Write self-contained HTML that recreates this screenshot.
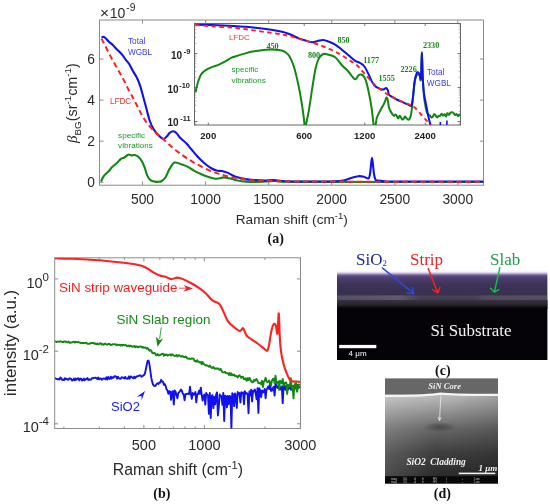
<!DOCTYPE html><html><head><meta charset="utf-8"><title>Figure</title><style>html,body{margin:0;padding:0;background:#fff;}svg{display:block;}text{font-family:'Liberation Sans', Arial, sans-serif;}.sf{font-family:'Liberation Serif', 'Times New Roman', serif;}</style></head><body><svg width="550" height="504" viewBox="0 0 550 504"><defs><clipPath id="ca"><rect x="100" y="20" width="383.5" height="165"/></clipPath><clipPath id="ci"><rect x="194.5" y="23.5" width="266" height="101.5"/></clipPath><clipPath id="cb"><rect x="54.7" y="257.8" width="245.8" height="170.7"/></clipPath><linearGradient id="pband" gradientUnits="userSpaceOnUse" x1="0" y1="270" x2="0" y2="309"><stop offset="0" stop-color="#ffffff"/><stop offset="0.04" stop-color="#f6f2fa"/><stop offset="0.08" stop-color="#cfc4e2"/><stop offset="0.13" stop-color="#6e5e96"/><stop offset="0.18" stop-color="#524274"/><stop offset="0.26" stop-color="#483a68"/><stop offset="0.38" stop-color="#3e3358"/><stop offset="0.55" stop-color="#3a3150"/><stop offset="0.64" stop-color="#3a324c"/><stop offset="0.67" stop-color="#40384e"/><stop offset="0.76" stop-color="#3a3446"/><stop offset="0.82" stop-color="#312c38"/><stop offset="0.9" stop-color="#27222c"/><stop offset="0.95" stop-color="#100c14"/><stop offset="1" stop-color="#050307"/></linearGradient><linearGradient id="pstripe" x1="0" y1="0" x2="1" y2="0"><stop offset="0" stop-color="#8a8294" stop-opacity="0.32"/><stop offset="0.3" stop-color="#8a8294" stop-opacity="0.45"/><stop offset="0.4" stop-color="#8a8294" stop-opacity="0.1"/><stop offset="0.65" stop-color="#8a8294" stop-opacity="0.12"/><stop offset="0.72" stop-color="#8a8294" stop-opacity="0.28"/><stop offset="1" stop-color="#8a8294" stop-opacity="0.3"/></linearGradient><linearGradient id="semv" gradientUnits="userSpaceOnUse" x1="0" y1="397" x2="0" y2="477"><stop offset="0" stop-color="#b8b8b8"/><stop offset="0.15" stop-color="#999"/><stop offset="0.4" stop-color="#666"/><stop offset="0.7" stop-color="#3e3e3e"/><stop offset="1" stop-color="#2a2a2a"/></linearGradient><linearGradient id="semh" x1="0" y1="0" x2="1" y2="0"><stop offset="0" stop-color="#fff" stop-opacity="0.16"/><stop offset="0.45" stop-color="#fff" stop-opacity="0"/><stop offset="0.55" stop-color="#000" stop-opacity="0"/><stop offset="1" stop-color="#000" stop-opacity="0.14"/></linearGradient><radialGradient id="blob"><stop offset="0" stop-color="#2a2a2a" stop-opacity="0.55"/><stop offset="1" stop-color="#2a2a2a" stop-opacity="0"/></radialGradient></defs><rect x="99.5" y="20" width="384" height="165.2" fill="none" stroke="#8c8c8c" stroke-width="1"/><line x1="142.5" y1="185" x2="142.5" y2="181.5" stroke="#8c8c8c" stroke-width="1"/><line x1="142.5" y1="20" x2="142.5" y2="23.5" stroke="#8c8c8c" stroke-width="1"/><text x="142.5" y="204" font-size="13.8" fill="#2a2a2a" text-anchor="middle">500</text><line x1="205.6" y1="185" x2="205.6" y2="181.5" stroke="#8c8c8c" stroke-width="1"/><line x1="205.6" y1="20" x2="205.6" y2="23.5" stroke="#8c8c8c" stroke-width="1"/><text x="205.6" y="204" font-size="13.8" fill="#2a2a2a" text-anchor="middle">1000</text><line x1="268.7" y1="185" x2="268.7" y2="181.5" stroke="#8c8c8c" stroke-width="1"/><line x1="268.7" y1="20" x2="268.7" y2="23.5" stroke="#8c8c8c" stroke-width="1"/><text x="268.7" y="204" font-size="13.8" fill="#2a2a2a" text-anchor="middle">1500</text><line x1="331.7" y1="185" x2="331.7" y2="181.5" stroke="#8c8c8c" stroke-width="1"/><line x1="331.7" y1="20" x2="331.7" y2="23.5" stroke="#8c8c8c" stroke-width="1"/><text x="331.7" y="204" font-size="13.8" fill="#2a2a2a" text-anchor="middle">2000</text><line x1="394.8" y1="185" x2="394.8" y2="181.5" stroke="#8c8c8c" stroke-width="1"/><line x1="394.8" y1="20" x2="394.8" y2="23.5" stroke="#8c8c8c" stroke-width="1"/><text x="394.8" y="204" font-size="13.8" fill="#2a2a2a" text-anchor="middle">2500</text><line x1="457.8" y1="185" x2="457.8" y2="181.5" stroke="#8c8c8c" stroke-width="1"/><line x1="457.8" y1="20" x2="457.8" y2="23.5" stroke="#8c8c8c" stroke-width="1"/><text x="457.8" y="204" font-size="13.8" fill="#2a2a2a" text-anchor="middle">3000</text><line x1="100" y1="182.3" x2="103.5" y2="182.3" stroke="#8c8c8c" stroke-width="1"/><line x1="483.5" y1="182.3" x2="480" y2="182.3" stroke="#8c8c8c" stroke-width="1"/><text x="95" y="187.3" font-size="13.8" fill="#2a2a2a" text-anchor="end">0</text><line x1="100" y1="141.2" x2="103.5" y2="141.2" stroke="#8c8c8c" stroke-width="1"/><line x1="483.5" y1="141.2" x2="480" y2="141.2" stroke="#8c8c8c" stroke-width="1"/><text x="95" y="146.2" font-size="13.8" fill="#2a2a2a" text-anchor="end">2</text><line x1="100" y1="100.1" x2="103.5" y2="100.1" stroke="#8c8c8c" stroke-width="1"/><line x1="483.5" y1="100.1" x2="480" y2="100.1" stroke="#8c8c8c" stroke-width="1"/><text x="95" y="105.1" font-size="13.8" fill="#2a2a2a" text-anchor="end">4</text><line x1="100" y1="59.0" x2="103.5" y2="59.0" stroke="#8c8c8c" stroke-width="1"/><line x1="483.5" y1="59.0" x2="480" y2="59.0" stroke="#8c8c8c" stroke-width="1"/><text x="95" y="64.0" font-size="13.8" fill="#2a2a2a" text-anchor="end">6</text><text x="100.1" y="17.6" font-size="14" fill="#2a2a2a"><tspan font-size="15.5">×</tspan><tspan dx="0.6">10</tspan><tspan font-size="10.3" dy="-6.4" dx="1">-9</tspan></text><text x="235.8" y="224.3" font-size="13.6" fill="#2a2a2a">Raman shift (cm<tspan font-size="9.5" dy="-5.5">-1</tspan><tspan dy="5.5">)</tspan></text><text class="sf" x="267.6" y="243" font-size="14" font-weight="bold" fill="#111">(a)</text><g transform="translate(77,142.9) rotate(-90)"><text x="0" y="0" font-size="14.3" fill="#2a2a2a"><tspan font-style="italic" font-family="Liberation Serif, serif" font-size="15">β</tspan><tspan font-size="9.8" dy="4">BG</tspan><tspan dy="-4">(sr</tspan><tspan font-size="9.8" dy="-6">-1</tspan><tspan dy="6">cm</tspan><tspan font-size="9.8" dy="-6">-1</tspan><tspan dy="6">)</tspan></text></g><g clip-path="url(#ca)" fill="none" stroke-linejoin="round"><path d="M101.00,181.50 C101.43,180.63 102.72,177.63 103.60,176.30 C104.48,174.97 105.38,174.43 106.30,173.50 C107.22,172.57 108.17,171.75 109.10,170.70 C110.03,169.65 110.73,168.36 111.90,167.20 C113.07,166.04 114.60,165.13 116.10,163.75 C117.60,162.37 119.52,159.94 120.90,158.90 C122.28,157.86 123.12,158.22 124.40,157.50 C125.68,156.78 127.45,154.95 128.60,154.60 C129.75,154.25 130.27,155.33 131.30,155.40 C132.33,155.47 133.63,154.77 134.80,155.00 C135.97,155.23 137.14,155.80 138.30,156.80 C139.46,157.80 140.72,159.27 141.75,161.00 C142.78,162.73 143.57,164.77 144.50,167.20 C145.43,169.63 146.25,173.40 147.30,175.60 C148.35,177.80 149.53,179.40 150.80,180.40 C152.07,181.40 153.70,181.37 154.90,181.60 C156.10,181.83 156.87,181.90 158.00,181.80 C159.13,181.70 160.42,181.80 161.70,181.00 C162.98,180.20 164.37,179.07 165.70,177.00 C167.03,174.93 168.22,171.00 169.70,168.60 C171.18,166.20 172.62,163.30 174.60,162.60 C176.58,161.90 179.45,163.73 181.60,164.40 C183.75,165.07 185.52,165.60 187.50,166.60 C189.48,167.60 191.18,169.12 193.50,170.40 C195.82,171.68 199.10,173.27 201.40,174.30 C203.70,175.33 204.80,175.85 207.30,176.60 C209.80,177.35 213.68,178.67 216.40,178.80 C219.12,178.93 221.48,177.50 223.60,177.40 C225.72,177.30 226.97,177.73 229.10,178.20 C231.23,178.67 233.67,179.63 236.40,180.20 C239.13,180.77 240.97,181.33 245.50,181.60 C250.03,181.87 258.77,181.90 263.60,181.80 C268.43,181.70 271.47,181.03 274.50,181.00 C277.53,180.97 277.55,181.45 281.80,181.60 C286.05,181.75 266.38,181.83 300.00,181.90 C333.62,181.97 452.92,181.98 483.50,182.00" stroke="#118811" stroke-width="2.1"/><path d="M101.50,37.60 C101.85,37.45 102.87,36.55 103.60,36.70 C104.33,36.85 104.98,37.63 105.90,38.50 C106.82,39.37 107.90,40.77 109.10,41.90 C110.30,43.03 111.78,44.02 113.10,45.30 C114.42,46.58 115.55,48.12 117.00,49.60 C118.45,51.08 120.33,52.50 121.80,54.20 C123.27,55.90 124.60,58.20 125.80,59.80 C127.00,61.40 127.82,61.93 129.00,63.80 C130.18,65.67 131.58,68.67 132.90,71.00 C134.22,73.33 135.70,75.37 136.90,77.80 C138.10,80.23 139.05,82.45 140.10,85.60 C141.15,88.75 142.15,92.87 143.20,96.70 C144.25,100.53 145.30,104.55 146.40,108.60 C147.50,112.65 148.57,117.52 149.80,121.00 C151.03,124.48 152.30,127.07 153.80,129.50 C155.30,131.93 157.22,134.02 158.80,135.60 C160.38,137.18 161.98,138.83 163.30,139.00 C164.62,139.17 165.63,137.62 166.70,136.60 C167.77,135.58 168.60,133.78 169.70,132.90 C170.80,132.02 172.15,131.23 173.30,131.30 C174.45,131.37 175.38,132.15 176.60,133.30 C177.82,134.45 178.95,136.48 180.60,138.20 C182.25,139.92 184.68,141.72 186.50,143.60 C188.32,145.48 189.67,147.35 191.50,149.50 C193.33,151.65 195.75,154.58 197.50,156.50 C199.25,158.42 200.58,159.67 202.00,161.00 C203.42,162.33 204.52,163.33 206.00,164.50 C207.48,165.67 209.17,166.98 210.90,168.00 C212.63,169.02 214.58,170.10 216.40,170.60 C218.22,171.10 219.98,170.67 221.80,171.00 C223.62,171.33 225.48,171.85 227.30,172.60 C229.12,173.35 230.88,174.67 232.70,175.50 C234.52,176.33 236.07,177.00 238.20,177.60 C240.33,178.20 242.78,178.70 245.50,179.10 C248.22,179.50 251.48,179.77 254.50,180.00 C257.52,180.23 260.57,180.48 263.60,180.50 C266.63,180.52 270.30,180.08 272.70,180.10 C275.10,180.12 275.95,180.42 278.00,180.60 C280.05,180.78 281.33,181.05 285.00,181.20 C288.67,181.35 292.50,181.45 300.00,181.50 C307.50,181.55 323.18,181.60 330.00,181.50 C336.82,181.40 338.17,181.20 340.90,180.90 C343.63,180.60 344.58,180.23 346.40,179.70 C348.22,179.17 349.80,178.28 351.80,177.70 C353.80,177.12 356.40,176.37 358.40,176.20 C360.40,176.03 362.15,176.32 363.80,176.70 C365.45,177.08 367.27,178.95 368.30,178.50 C369.33,178.05 369.52,176.58 370.00,174.00 C370.48,171.42 370.87,165.67 371.20,163.00 C371.53,160.33 371.73,158.00 372.00,158.00 C372.27,158.00 372.47,160.33 372.80,163.00 C373.13,165.67 373.53,171.18 374.00,174.00 C374.47,176.82 374.93,178.82 375.60,179.90 C376.27,180.98 376.52,180.28 378.00,180.50 C379.48,180.72 382.50,181.03 384.50,181.20 C386.50,181.37 373.50,181.45 390.00,181.50 C406.50,181.55 467.92,181.50 483.50,181.50" stroke="#1010f0" stroke-width="2.1"/><path d="M101.50,38.60 C102.10,39.77 103.57,42.60 105.10,45.60 C106.63,48.60 108.72,52.87 110.70,56.60 C112.68,60.33 114.88,64.20 117.00,68.00 C119.12,71.80 121.40,75.63 123.40,79.40 C125.40,83.17 127.32,87.37 129.00,90.60 C130.68,93.83 132.08,96.15 133.50,98.80 C134.92,101.45 136.10,103.77 137.50,106.50 C138.90,109.23 140.17,112.22 141.90,115.20 C143.63,118.18 145.58,121.48 147.90,124.40 C150.22,127.32 153.33,130.33 155.80,132.70 C158.27,135.07 160.38,136.55 162.70,138.60 C165.02,140.65 167.22,142.83 169.70,145.00 C172.18,147.17 174.63,149.33 177.60,151.60 C180.57,153.87 184.18,156.43 187.50,158.60 C190.82,160.77 193.90,162.63 197.50,164.60 C201.10,166.57 205.65,168.90 209.10,170.40 C212.55,171.90 215.17,172.63 218.20,173.60 C221.23,174.57 224.27,175.45 227.30,176.20 C230.33,176.95 233.37,177.57 236.40,178.10 C239.43,178.63 242.48,179.03 245.50,179.40 C248.52,179.77 249.97,180.07 254.50,180.30 C259.03,180.53 265.12,180.60 272.70,180.80 C280.28,181.00 264.87,181.33 300.00,181.50 C335.13,181.67 452.92,181.75 483.50,181.80" stroke="#ff2020" stroke-width="2" stroke-dasharray="5.5 3.5"/></g><text x="128" y="44" font-size="8.2" fill="#3b3bff">Total</text><text x="128" y="54.7" font-size="8.2" fill="#3b3bff">WGBL</text><text x="109.9" y="103.8" font-size="8.2" fill="#ff3030">LFDC</text><text x="118.1" y="137.5" font-size="8.1" fill="#1a9a2a">specific</text><text x="118.1" y="147.8" font-size="8.1" fill="#1a9a2a">vibrations</text><rect x="194.5" y="23.5" width="266" height="101.5" fill="#fff" stroke="#666" stroke-width="1"/><line x1="208.3" y1="125" x2="208.3" y2="122.5" stroke="#555" stroke-width="0.8"/><line x1="208.3" y1="23.5" x2="208.3" y2="26" stroke="#555" stroke-width="0.8"/><text x="208.3" y="139.4" font-size="9.6" font-weight="bold" fill="#222" text-anchor="middle">200</text><line x1="304.2" y1="125" x2="304.2" y2="122.5" stroke="#555" stroke-width="0.8"/><line x1="304.2" y1="23.5" x2="304.2" y2="26" stroke="#555" stroke-width="0.8"/><text x="304.2" y="139.4" font-size="9.6" font-weight="bold" fill="#222" text-anchor="middle">600</text><line x1="364.7" y1="125" x2="364.7" y2="122.5" stroke="#555" stroke-width="0.8"/><line x1="364.7" y1="23.5" x2="364.7" y2="26" stroke="#555" stroke-width="0.8"/><text x="364.7" y="139.4" font-size="9.6" font-weight="bold" fill="#222" text-anchor="middle">1200</text><line x1="425.2" y1="125" x2="425.2" y2="122.5" stroke="#555" stroke-width="0.8"/><line x1="425.2" y1="23.5" x2="425.2" y2="26" stroke="#555" stroke-width="0.8"/><text x="425.2" y="139.4" font-size="9.6" font-weight="bold" fill="#222" text-anchor="middle">2400</text><line x1="194.5" y1="53.5" x2="197.5" y2="53.5" stroke="#555" stroke-width="0.8"/><line x1="460.5" y1="53.5" x2="457.5" y2="53.5" stroke="#555" stroke-width="0.8"/><line x1="194.5" y1="87.5" x2="197.5" y2="87.5" stroke="#555" stroke-width="0.8"/><line x1="460.5" y1="87.5" x2="457.5" y2="87.5" stroke="#555" stroke-width="0.8"/><line x1="194.5" y1="121.5" x2="197.5" y2="121.5" stroke="#555" stroke-width="0.8"/><line x1="460.5" y1="121.5" x2="457.5" y2="121.5" stroke="#555" stroke-width="0.8"/><line x1="194.5" y1="43.3" x2="196.3" y2="43.3" stroke="#777" stroke-width="0.6"/><line x1="460.5" y1="43.3" x2="458.7" y2="43.3" stroke="#777" stroke-width="0.6"/><line x1="194.5" y1="37.3" x2="196.3" y2="37.3" stroke="#777" stroke-width="0.6"/><line x1="460.5" y1="37.3" x2="458.7" y2="37.3" stroke="#777" stroke-width="0.6"/><line x1="194.5" y1="33.0" x2="196.3" y2="33.0" stroke="#777" stroke-width="0.6"/><line x1="460.5" y1="33.0" x2="458.7" y2="33.0" stroke="#777" stroke-width="0.6"/><line x1="194.5" y1="29.7" x2="196.3" y2="29.7" stroke="#777" stroke-width="0.6"/><line x1="460.5" y1="29.7" x2="458.7" y2="29.7" stroke="#777" stroke-width="0.6"/><line x1="194.5" y1="27.0" x2="196.3" y2="27.0" stroke="#777" stroke-width="0.6"/><line x1="460.5" y1="27.0" x2="458.7" y2="27.0" stroke="#777" stroke-width="0.6"/><line x1="194.5" y1="24.8" x2="196.3" y2="24.8" stroke="#777" stroke-width="0.6"/><line x1="460.5" y1="24.8" x2="458.7" y2="24.8" stroke="#777" stroke-width="0.6"/><line x1="194.5" y1="77.3" x2="196.3" y2="77.3" stroke="#777" stroke-width="0.6"/><line x1="460.5" y1="77.3" x2="458.7" y2="77.3" stroke="#777" stroke-width="0.6"/><line x1="194.5" y1="71.3" x2="196.3" y2="71.3" stroke="#777" stroke-width="0.6"/><line x1="460.5" y1="71.3" x2="458.7" y2="71.3" stroke="#777" stroke-width="0.6"/><line x1="194.5" y1="67.0" x2="196.3" y2="67.0" stroke="#777" stroke-width="0.6"/><line x1="460.5" y1="67.0" x2="458.7" y2="67.0" stroke="#777" stroke-width="0.6"/><line x1="194.5" y1="63.7" x2="196.3" y2="63.7" stroke="#777" stroke-width="0.6"/><line x1="460.5" y1="63.7" x2="458.7" y2="63.7" stroke="#777" stroke-width="0.6"/><line x1="194.5" y1="61.0" x2="196.3" y2="61.0" stroke="#777" stroke-width="0.6"/><line x1="460.5" y1="61.0" x2="458.7" y2="61.0" stroke="#777" stroke-width="0.6"/><line x1="194.5" y1="58.8" x2="196.3" y2="58.8" stroke="#777" stroke-width="0.6"/><line x1="460.5" y1="58.8" x2="458.7" y2="58.8" stroke="#777" stroke-width="0.6"/><line x1="194.5" y1="56.8" x2="196.3" y2="56.8" stroke="#777" stroke-width="0.6"/><line x1="460.5" y1="56.8" x2="458.7" y2="56.8" stroke="#777" stroke-width="0.6"/><line x1="194.5" y1="55.1" x2="196.3" y2="55.1" stroke="#777" stroke-width="0.6"/><line x1="460.5" y1="55.1" x2="458.7" y2="55.1" stroke="#777" stroke-width="0.6"/><line x1="194.5" y1="111.3" x2="196.3" y2="111.3" stroke="#777" stroke-width="0.6"/><line x1="460.5" y1="111.3" x2="458.7" y2="111.3" stroke="#777" stroke-width="0.6"/><line x1="194.5" y1="105.3" x2="196.3" y2="105.3" stroke="#777" stroke-width="0.6"/><line x1="460.5" y1="105.3" x2="458.7" y2="105.3" stroke="#777" stroke-width="0.6"/><line x1="194.5" y1="101.0" x2="196.3" y2="101.0" stroke="#777" stroke-width="0.6"/><line x1="460.5" y1="101.0" x2="458.7" y2="101.0" stroke="#777" stroke-width="0.6"/><line x1="194.5" y1="97.7" x2="196.3" y2="97.7" stroke="#777" stroke-width="0.6"/><line x1="460.5" y1="97.7" x2="458.7" y2="97.7" stroke="#777" stroke-width="0.6"/><line x1="194.5" y1="95.0" x2="196.3" y2="95.0" stroke="#777" stroke-width="0.6"/><line x1="460.5" y1="95.0" x2="458.7" y2="95.0" stroke="#777" stroke-width="0.6"/><line x1="194.5" y1="92.8" x2="196.3" y2="92.8" stroke="#777" stroke-width="0.6"/><line x1="460.5" y1="92.8" x2="458.7" y2="92.8" stroke="#777" stroke-width="0.6"/><line x1="194.5" y1="90.8" x2="196.3" y2="90.8" stroke="#777" stroke-width="0.6"/><line x1="460.5" y1="90.8" x2="458.7" y2="90.8" stroke="#777" stroke-width="0.6"/><line x1="194.5" y1="89.1" x2="196.3" y2="89.1" stroke="#777" stroke-width="0.6"/><line x1="460.5" y1="89.1" x2="458.7" y2="89.1" stroke="#777" stroke-width="0.6"/><line x1="194.5" y1="124.8" x2="196.3" y2="124.8" stroke="#777" stroke-width="0.6"/><line x1="460.5" y1="124.8" x2="458.7" y2="124.8" stroke="#777" stroke-width="0.6"/><line x1="194.5" y1="123.1" x2="196.3" y2="123.1" stroke="#777" stroke-width="0.6"/><line x1="460.5" y1="123.1" x2="458.7" y2="123.1" stroke="#777" stroke-width="0.6"/><text x="182.0" y="59.0" font-size="10" font-weight="bold" fill="#222" text-anchor="end">10</text><text x="190.3" y="53.9" font-size="7.4" font-weight="bold" fill="#222" text-anchor="end">-9</text><text x="178.5" y="93.1" font-size="10" font-weight="bold" fill="#222" text-anchor="end">10</text><text x="189.9" y="88.0" font-size="7.4" font-weight="bold" fill="#222" text-anchor="end">-10</text><text x="178.5" y="126.4" font-size="10" font-weight="bold" fill="#222" text-anchor="end">10</text><text x="190.5" y="121.30000000000001" font-size="7.4" font-weight="bold" fill="#222" text-anchor="end">-11</text><g clip-path="url(#ci)" fill="none" stroke-linejoin="round"><path d="M195.50,92.20 C195.85,90.75 196.70,86.40 197.60,83.50 C198.50,80.60 199.62,76.98 200.90,74.80 C202.18,72.62 203.48,71.68 205.30,70.40 C207.12,69.12 209.62,68.02 211.80,67.10 C213.98,66.18 216.22,65.80 218.40,64.90 C220.58,64.00 222.72,62.90 224.90,61.70 C227.08,60.50 229.32,58.72 231.50,57.70 C233.68,56.68 235.82,56.28 238.00,55.60 C240.18,54.92 242.42,54.23 244.60,53.60 C246.78,52.97 248.92,52.27 251.10,51.80 C253.28,51.33 255.15,51.15 257.70,50.80 C260.25,50.45 263.48,49.88 266.40,49.70 C269.32,49.52 272.65,49.55 275.20,49.70 C277.75,49.85 280.07,50.23 281.70,50.60 C283.33,50.97 283.72,50.97 285.00,51.90 C286.28,52.83 287.95,53.85 289.40,56.20 C290.85,58.55 292.25,61.45 293.70,66.00 C295.15,70.55 296.82,77.67 298.10,83.50 C299.38,89.33 300.48,95.53 301.40,101.00 C302.32,106.47 302.98,111.97 303.60,116.30 C304.22,120.63 304.57,126.27 305.10,127.00 C305.63,127.73 306.15,123.58 306.80,120.70 C307.45,117.82 308.08,115.17 309.00,109.70 C309.92,104.23 311.20,94.82 312.30,87.90 C313.40,80.98 314.50,73.12 315.60,68.20 C316.70,63.28 317.63,60.77 318.90,58.40 C320.17,56.03 321.57,54.62 323.20,54.00 C324.83,53.38 326.70,54.15 328.70,54.70 C330.70,55.25 333.02,55.58 335.20,57.30 C337.38,59.02 339.62,62.63 341.80,65.00 C343.98,67.37 346.12,69.13 348.30,71.50 C350.48,73.87 353.28,78.45 354.90,79.20 C356.52,79.95 357.15,76.78 358.00,76.00 C358.85,75.22 359.18,74.62 360.00,74.50 C360.82,74.38 361.93,74.32 362.90,75.30 C363.87,76.28 364.83,77.62 365.80,80.40 C366.77,83.18 367.73,87.40 368.70,92.00 C369.67,96.60 370.75,102.33 371.60,108.00 C372.45,113.67 373.18,123.00 373.80,126.00 C374.42,129.00 374.82,127.30 375.30,126.00 C375.78,124.70 376.22,120.12 376.70,118.20 C377.18,116.28 377.58,115.83 378.20,114.50 C378.82,113.17 379.68,111.53 380.40,110.20 C381.12,108.87 381.78,107.83 382.50,106.50 C383.22,105.17 384.03,103.70 384.70,102.20 C385.37,100.70 385.97,97.75 386.50,97.50 C387.03,97.25 387.47,98.95 387.90,100.70 C388.33,102.45 388.53,106.05 389.10,108.00 C389.67,109.95 390.68,111.30 391.30,112.40 C391.92,113.50 392.32,114.00 392.80,114.60 C393.28,115.20 393.78,116.03 394.20,116.00 C394.62,115.97 394.93,114.52 395.30,114.40 C395.67,114.28 396.03,114.77 396.40,115.30 C396.77,115.83 397.15,117.12 397.50,117.60 C397.85,118.08 398.15,118.50 398.50,118.20 C398.85,117.90 399.23,116.05 399.60,115.80 C399.97,115.55 400.28,116.10 400.70,116.70 C401.12,117.30 401.62,119.03 402.10,119.40 C402.58,119.77 403.12,119.38 403.60,118.90 C404.08,118.42 404.52,116.62 405.00,116.50 C405.48,116.38 406.00,117.68 406.50,118.20 C407.00,118.72 407.50,119.48 408.00,119.60 C408.50,119.72 409.02,119.62 409.50,118.90 C409.98,118.18 410.47,117.37 410.90,115.30 C411.33,113.23 411.67,110.38 412.10,106.50 C412.53,102.62 412.97,96.60 413.50,92.00 C414.03,87.40 414.65,81.82 415.30,78.90 C415.95,75.98 416.68,75.07 417.40,74.50 C418.12,73.93 419.03,74.67 419.60,75.50 C420.17,76.33 420.42,83.17 420.80,79.50 C421.18,75.83 421.55,53.25 421.90,53.50 C422.25,53.75 422.55,73.85 422.90,81.00 C423.25,88.15 423.58,92.23 424.00,96.40 C424.42,100.57 424.92,103.33 425.40,106.00 C425.88,108.67 426.42,110.97 426.90,112.40 C427.38,113.83 427.82,114.12 428.30,114.60 C428.78,115.08 429.32,114.83 429.80,115.30 C430.28,115.77 430.72,117.17 431.20,117.40 C431.68,117.63 432.20,117.23 432.70,116.70 C433.20,116.17 433.72,114.43 434.20,114.20 C434.68,113.97 435.13,114.75 435.60,115.30 C436.07,115.85 436.52,117.42 437.00,117.50 C437.48,117.58 438.00,116.05 438.50,115.80 C439.00,115.55 439.50,116.33 440.00,116.00 C440.50,115.67 441.00,113.87 441.50,113.80 C442.00,113.73 442.50,115.53 443.00,115.60 C443.50,115.67 444.00,114.03 444.50,114.20 C445.00,114.37 445.52,116.77 446.00,116.60 C446.48,116.43 446.90,113.50 447.40,113.20 C447.90,112.90 448.48,114.90 449.00,114.80 C449.52,114.70 449.95,113.02 450.50,112.60 C451.05,112.18 451.75,112.17 452.30,112.30 C452.85,112.43 453.32,112.95 453.80,113.40 C454.28,113.85 454.72,114.88 455.20,115.00 C455.68,115.12 456.20,113.90 456.70,114.10 C457.20,114.30 457.75,116.15 458.20,116.20 C458.65,116.25 459.00,114.50 459.40,114.40 C459.80,114.30 460.40,115.40 460.60,115.60" stroke="#118811" stroke-width="2"/><path d="M195.50,24.60 C198.22,24.67 205.43,24.75 211.80,25.00 C218.17,25.25 226.42,25.63 233.70,26.10 C240.98,26.57 248.95,27.15 255.50,27.80 C262.05,28.45 268.58,29.33 273.00,30.00 C277.42,30.67 279.67,31.27 282.00,31.80 C284.33,32.33 285.40,32.67 287.00,33.20 C288.60,33.73 289.75,34.18 291.60,35.00 C293.45,35.82 295.92,37.22 298.10,38.10 C300.28,38.98 302.33,39.60 304.70,40.30 C307.07,41.00 310.12,42.20 312.30,42.30 C314.48,42.40 315.98,41.30 317.80,40.90 C319.62,40.50 321.38,39.78 323.20,39.90 C325.02,40.02 326.70,40.82 328.70,41.60 C330.70,42.38 333.02,43.25 335.20,44.60 C337.38,45.95 339.62,47.95 341.80,49.70 C343.98,51.45 346.12,53.28 348.30,55.10 C350.48,56.92 352.95,59.28 354.90,60.60 C356.85,61.92 358.42,62.02 360.00,63.00 C361.58,63.98 362.95,64.58 364.40,66.50 C365.85,68.42 367.50,72.07 368.70,74.50 C369.90,76.93 370.63,79.27 371.60,81.10 C372.57,82.93 373.28,84.28 374.50,85.50 C375.72,86.72 377.43,87.72 378.90,88.40 C380.37,89.08 382.08,89.68 383.30,89.60 C384.52,89.52 385.43,87.75 386.20,87.90 C386.97,88.05 387.42,89.33 387.90,90.50 C388.38,91.67 388.17,93.73 389.10,94.90 C390.03,96.07 392.05,96.65 393.50,97.50 C394.95,98.35 396.12,99.15 397.80,100.00 C399.48,100.85 401.65,101.72 403.60,102.60 C405.55,103.48 408.17,104.88 409.50,105.30 C410.83,105.72 411.00,106.58 411.60,105.10 C412.20,103.62 412.62,100.28 413.10,96.40 C413.58,92.52 413.90,85.68 414.50,81.80 C415.10,77.92 416.08,74.67 416.70,73.10 C417.32,71.53 417.72,72.17 418.20,72.40 C418.68,72.63 419.17,73.42 419.60,74.50 C420.03,75.58 420.50,79.65 420.80,78.90 C421.10,78.15 421.22,74.48 421.40,70.00 C421.58,65.52 421.73,52.00 421.90,52.00 C422.07,52.00 422.23,65.27 422.40,70.00 C422.57,74.73 422.63,76.48 422.90,80.40 C423.17,84.32 423.45,89.38 424.00,93.50 C424.55,97.62 425.47,101.23 426.20,105.10 C426.93,108.97 427.63,113.22 428.40,116.70 C429.17,120.18 430.40,124.45 430.80,126.00" stroke="#1010f0" stroke-width="2"/><path d="M195.50,25.00 C198.22,25.22 205.43,25.83 211.80,26.30 C218.17,26.77 227.15,27.18 233.70,27.80 C240.25,28.42 245.65,29.27 251.10,30.00 C256.55,30.73 262.03,31.58 266.40,32.20 C270.77,32.82 274.20,33.23 277.30,33.70 C280.40,34.17 282.27,34.42 285.00,35.00 C287.73,35.58 290.78,36.40 293.70,37.20 C296.62,38.00 299.40,38.92 302.50,39.80 C305.60,40.68 309.03,41.47 312.30,42.50 C315.57,43.53 319.00,44.80 322.10,46.00 C325.20,47.20 327.98,48.37 330.90,49.70 C333.82,51.03 336.70,52.37 339.60,54.00 C342.50,55.63 345.38,57.58 348.30,59.50 C351.22,61.42 354.42,63.15 357.10,65.50 C359.78,67.85 361.50,70.43 364.40,73.60 C367.30,76.77 371.60,81.70 374.50,84.50 C377.40,87.30 379.37,88.57 381.80,90.40 C384.23,92.23 386.67,94.03 389.10,95.50 C391.53,96.97 393.98,98.08 396.40,99.20 C398.82,100.32 401.18,101.22 403.60,102.20 C406.02,103.18 408.95,104.13 410.90,105.10 C412.85,106.07 413.60,106.43 415.30,108.00 C417.00,109.57 419.17,112.32 421.10,114.50 C423.03,116.68 425.33,119.18 426.90,121.10 C428.47,123.02 429.90,125.18 430.50,126.00" stroke="#ff2020" stroke-width="1.9" stroke-dasharray="4.5 3.5"/><path d="M440.3,125 v-3 M446.9,125 v-4.5" stroke="#1010f0" stroke-width="1.6"/></g><text x="228.9" y="39.8" font-size="8" fill="#ff3030">LFDC</text><text x="231.5" y="72" font-size="8" fill="#1a9a2a">specific</text><text x="231.5" y="82.8" font-size="8" fill="#1a9a2a">vibrations</text><text x="427" y="75" font-size="8.2" fill="#3b3bff">Total</text><text x="426.8" y="85.7" font-size="8.2" fill="#3b3bff">WGBL</text><text class="sf" x="266.4" y="48.6" font-size="8.2" font-weight="bold" fill="#1a8a1a">450</text><text class="sf" x="337.4" y="43.1" font-size="8.2" font-weight="bold" fill="#1a8a1a">850</text><text class="sf" x="307.9" y="57.7" font-size="8.2" font-weight="bold" fill="#1a8a1a">800</text><text class="sf" x="363.2" y="62.8" font-size="8.2" font-weight="bold" fill="#1a8a1a">1177</text><text class="sf" x="378.5" y="80.9" font-size="8.2" font-weight="bold" fill="#1a8a1a">1555</text><text class="sf" x="400.4" y="71.5" font-size="8.2" font-weight="bold" fill="#1a8a1a">2226</text><text class="sf" x="422.9" y="48.1" font-size="8.2" font-weight="bold" fill="#1a8a1a">2330</text><rect x="54.7" y="257.8" width="245.8" height="170.7" fill="none" stroke="#8c8c8c" stroke-width="1"/><line x1="63.9" y1="428.5" x2="63.9" y2="426.5" stroke="#8c8c8c" stroke-width="1"/><line x1="63.9" y1="257.8" x2="63.9" y2="259.8" stroke="#8c8c8c" stroke-width="1"/><line x1="99.3" y1="428.5" x2="99.3" y2="426.5" stroke="#8c8c8c" stroke-width="1"/><line x1="99.3" y1="257.8" x2="99.3" y2="259.8" stroke="#8c8c8c" stroke-width="1"/><line x1="124.4" y1="428.5" x2="124.4" y2="426.5" stroke="#8c8c8c" stroke-width="1"/><line x1="124.4" y1="257.8" x2="124.4" y2="259.8" stroke="#8c8c8c" stroke-width="1"/><line x1="143.9" y1="428.5" x2="143.9" y2="425.0" stroke="#8c8c8c" stroke-width="1"/><line x1="143.9" y1="257.8" x2="143.9" y2="261.3" stroke="#8c8c8c" stroke-width="1"/><line x1="159.8" y1="428.5" x2="159.8" y2="426.5" stroke="#8c8c8c" stroke-width="1"/><line x1="159.8" y1="257.8" x2="159.8" y2="259.8" stroke="#8c8c8c" stroke-width="1"/><line x1="173.3" y1="428.5" x2="173.3" y2="426.5" stroke="#8c8c8c" stroke-width="1"/><line x1="173.3" y1="257.8" x2="173.3" y2="259.8" stroke="#8c8c8c" stroke-width="1"/><line x1="184.9" y1="428.5" x2="184.9" y2="426.5" stroke="#8c8c8c" stroke-width="1"/><line x1="184.9" y1="257.8" x2="184.9" y2="259.8" stroke="#8c8c8c" stroke-width="1"/><line x1="195.2" y1="428.5" x2="195.2" y2="426.5" stroke="#8c8c8c" stroke-width="1"/><line x1="195.2" y1="257.8" x2="195.2" y2="259.8" stroke="#8c8c8c" stroke-width="1"/><line x1="204.4" y1="428.5" x2="204.4" y2="425.0" stroke="#8c8c8c" stroke-width="1"/><line x1="204.4" y1="257.8" x2="204.4" y2="261.3" stroke="#8c8c8c" stroke-width="1"/><line x1="264.9" y1="428.5" x2="264.9" y2="426.5" stroke="#8c8c8c" stroke-width="1"/><line x1="264.9" y1="257.8" x2="264.9" y2="259.8" stroke="#8c8c8c" stroke-width="1"/><line x1="300.3" y1="428.5" x2="300.3" y2="425.0" stroke="#8c8c8c" stroke-width="1"/><line x1="300.3" y1="257.8" x2="300.3" y2="261.3" stroke="#8c8c8c" stroke-width="1"/><text x="143.9" y="449.6" font-size="14.5" fill="#2a2a2a" text-anchor="middle">500</text><text x="204.4" y="449.6" font-size="14.5" fill="#2a2a2a" text-anchor="middle">1000</text><text x="300.3" y="449.6" font-size="14.5" fill="#2a2a2a" text-anchor="middle">3000</text><line x1="54.7" y1="278.9" x2="58.2" y2="278.9" stroke="#8c8c8c" stroke-width="1"/><line x1="300.5" y1="278.9" x2="297" y2="278.9" stroke="#8c8c8c" stroke-width="1"/><text x="49" y="287.5" font-size="14.5" fill="#2a2a2a" text-anchor="end">10<tspan font-size="11.5" dy="-7">0</tspan></text><line x1="54.7" y1="351.2" x2="58.2" y2="351.2" stroke="#8c8c8c" stroke-width="1"/><line x1="300.5" y1="351.2" x2="297" y2="351.2" stroke="#8c8c8c" stroke-width="1"/><text x="49" y="359.8" font-size="14.5" fill="#2a2a2a" text-anchor="end">10<tspan font-size="11.5" dy="-7">-2</tspan></text><line x1="54.7" y1="423.8" x2="58.2" y2="423.8" stroke="#8c8c8c" stroke-width="1"/><line x1="300.5" y1="423.8" x2="297" y2="423.8" stroke="#8c8c8c" stroke-width="1"/><text x="49" y="432.40000000000003" font-size="14.5" fill="#2a2a2a" text-anchor="end">10<tspan font-size="11.5" dy="-7">-4</tspan></text><text x="112.8" y="474.7" font-size="15.8" fill="#2a2a2a">Raman shift (cm<tspan font-size="11.2" dy="-6.2">-1</tspan><tspan dy="6.2">)</tspan></text><text class="sf" x="153.3" y="497.7" font-size="14" font-weight="bold" fill="#111">(b)</text><text x="0" y="0" font-size="16.9" fill="#2a2a2a" transform="translate(16.1,395.9) rotate(-90)">intensity (a.u.)</text><g clip-path="url(#cb)" fill="none" stroke-linejoin="round"><path d="M55.00,378.22 L55.90,378.65 L56.80,378.91 L57.70,379.41 L58.60,379.01 L59.50,379.60 L60.40,377.40 L61.30,378.66 L62.20,380.02 L63.10,379.38 L64.00,380.15 L64.90,378.23 L65.80,379.27 L66.70,378.81 L67.60,379.61 L68.50,379.69 L69.40,378.23 L70.30,378.76 L71.20,378.93 L72.10,380.58 L73.00,380.19 L73.90,378.61 L74.80,380.27 L75.70,378.56 L76.60,379.81 L77.50,378.53 L78.40,378.20 L79.30,380.43 L80.20,378.64 L81.10,378.59 L82.00,380.51 L82.90,380.16 L83.80,378.57 L84.70,380.25 L85.60,379.09 L86.50,379.38 L87.40,378.08 L88.30,379.93 L89.20,379.21 L90.10,379.86 L91.00,379.63 L91.90,378.12 L92.80,378.31 L93.70,377.83 L94.60,377.81 L95.50,377.63 L96.40,378.28 L97.30,379.09 L98.20,377.56 L99.10,379.34 L100.00,378.49 L100.90,378.45 L101.80,379.80 L102.70,378.94 L103.60,378.39 L104.50,378.70 L105.40,379.16 L106.30,377.35 L107.20,379.62 L108.10,377.02 L109.00,378.79 L109.90,378.92 L110.80,376.64 L111.70,378.52 L112.60,377.31 L113.50,377.74 L114.40,376.14 L115.30,376.26 L116.20,376.64 L117.10,378.69 L118.00,376.76 L118.90,378.25 L119.80,378.74 L120.70,378.81 L121.60,377.29 L122.50,377.36 L123.40,377.84 L124.30,378.53 L125.20,376.83 L126.10,378.53 L127.00,378.61 L127.90,378.68 L128.80,376.45 L129.70,378.73 L130.60,376.41 L131.50,376.97 L132.40,377.58 L133.30,378.29 L134.20,376.70 L135.10,378.13 L136.00,377.05 L136.90,376.35 L137.80,376.27 L138.70,375.79 L139.60,375.39 L140.50,375.42 L141.40,376.68 L142.30,376.33 L143.20,375.45 L144.10,374.93 L145.00,373.29 L145.90,369.02 L146.80,364.50 L147.70,360.69 L148.60,360.59 L149.50,364.60 L150.40,371.47 L151.30,377.91 L152.20,381.85 L153.10,384.75 L154.00,385.72 L154.90,385.97 L155.80,385.38 L156.70,383.97 L157.60,383.30 L158.50,383.89 L159.40,382.42 L160.30,382.47 L161.20,379.84 L162.10,381.57 L163.00,381.66 L163.90,384.88 L164.80,384.12 L165.70,386.08 L166.60,389.40 L167.50,390.50 L168.40,393.81 L169.30,391.19 L170.20,391.61 L171.10,399.89 L172.00,391.98 L172.90,391.06 L173.80,404.53 L174.70,390.43 L175.60,391.74 L176.50,395.33 L177.40,398.33 L178.30,393.02 L179.20,392.18 L180.10,391.14 L181.00,389.57 L181.90,390.68 L182.80,393.82 L183.70,394.41 L184.60,400.28 L185.50,394.08 L186.40,394.09 L187.30,393.69 L188.20,393.58 L189.10,394.23 L190.00,386.76 L190.90,394.06 L191.80,398.92 L192.70,392.91 L193.60,394.69 L194.50,394.30 L195.40,392.00 L196.30,402.32 L197.20,394.29 L198.10,393.96 L199.00,390.63 L199.90,393.89 L200.80,387.63 L201.70,394.68 L202.60,400.67 L203.50,395.59 L204.40,394.59 L205.30,404.73 L206.20,392.83 L207.10,394.63 L208.00,395.21 L208.90,413.82 L209.80,392.99 L210.70,417.96 L211.60,396.25 L212.50,395.23 L213.40,408.17 L214.30,396.98 L215.20,404.31 L216.10,394.55 L217.00,392.44 L217.90,415.52 L218.80,406.60 L219.70,394.54 L220.60,395.90 L221.50,396.15 L222.40,404.91 L223.30,393.02 L224.20,421.07 L225.10,395.64 L226.00,396.22 L226.90,407.30 L227.80,396.01 L228.70,404.24 L229.60,396.03 L230.50,396.50 L231.40,428.15 L232.30,393.08 L233.20,394.74 L234.10,406.06 L235.00,393.34 L235.90,396.12 L236.80,407.91 L237.70,392.07 L238.60,394.56 L239.50,393.00 L240.40,402.55 L241.30,392.27 L242.20,393.28 L243.10,392.38 L244.00,404.20 L244.90,391.32 L245.80,393.70 L246.70,392.98 L247.60,394.16 L248.50,413.28 L249.40,391.49 L250.30,395.27 L251.20,389.65 L252.10,401.43 L253.00,390.87 L253.90,391.44 L254.80,389.45 L255.70,393.52 L256.60,399.31 L257.50,388.30 L258.40,412.87 L259.30,388.21 L260.20,390.69 L261.10,397.20 L262.00,390.46 L262.90,392.51 L263.80,391.49 L264.70,388.91 L265.60,398.21 L266.50,389.89 L267.40,388.07 L268.30,386.52 L269.20,389.06 L270.10,382.31 L271.00,390.87 L271.90,390.75 L272.80,388.41 L273.70,386.70 L274.60,395.55 L275.50,384.51 L276.40,385.10 L277.30,387.80 L278.20,388.05 L279.10,385.15 L280.00,388.04 L280.90,389.56 L281.80,386.42 L282.70,403.12 L283.60,385.43 L284.50,385.78 L285.40,389.83 L286.30,386.28 L287.20,389.77 L288.10,389.48 L289.00,387.57 L289.90,385.56 L290.80,389.89 L291.70,386.98 L292.60,386.49 L293.50,385.91 L294.40,389.91 L295.30,386.95 L296.20,385.72 L297.10,386.86 L298.00,384.73 L298.90,387.73 L299.80,386.66" stroke="#1010f0" stroke-width="1.9"/><path d="M55.00,341.33 L55.90,341.53 L56.80,342.08 L57.70,341.49 L58.60,341.59 L59.50,341.75 L60.40,341.23 L61.30,341.73 L62.20,341.94 L63.10,342.22 L64.00,341.29 L64.90,341.62 L65.80,341.37 L66.70,342.42 L67.60,342.31 L68.50,341.44 L69.40,342.80 L70.30,342.82 L71.20,342.43 L72.10,342.42 L73.00,341.83 L73.90,341.67 L74.80,342.44 L75.70,341.83 L76.60,342.06 L77.50,342.17 L78.40,341.92 L79.30,342.58 L80.20,342.60 L81.10,343.21 L82.00,342.82 L82.90,343.04 L83.80,342.89 L84.70,343.17 L85.60,342.94 L86.50,342.74 L87.40,343.80 L88.30,343.85 L89.20,343.69 L90.10,343.56 L91.00,343.06 L91.90,342.99 L92.80,343.13 L93.70,342.87 L94.60,343.90 L95.50,343.44 L96.40,344.12 L97.30,343.53 L98.20,344.38 L99.10,344.28 L100.00,343.15 L100.90,343.49 L101.80,344.53 L102.70,343.96 L103.60,344.74 L104.50,343.98 L105.40,343.58 L106.30,344.41 L107.20,344.68 L108.10,344.02 L109.00,343.83 L109.90,344.23 L110.80,345.17 L111.70,344.93 L112.60,344.10 L113.50,344.33 L114.40,344.19 L115.30,344.18 L116.20,345.27 L117.10,344.46 L118.00,345.05 L118.90,344.95 L119.80,344.65 L120.70,345.47 L121.60,344.68 L122.50,345.46 L123.40,344.77 L124.30,345.26 L125.20,345.02 L126.10,345.16 L127.00,346.23 L127.90,346.11 L128.80,345.53 L129.70,346.45 L130.60,345.62 L131.50,345.99 L132.40,346.75 L133.30,346.57 L134.20,345.92 L135.10,347.28 L136.00,346.31 L136.90,346.48 L137.80,347.32 L138.70,346.81 L139.60,346.87 L140.50,346.42 L141.40,346.57 L142.30,347.66 L143.20,347.09 L144.10,347.89 L145.00,347.51 L145.90,347.76 L146.80,348.85 L147.70,348.07 L148.60,349.20 L149.50,350.73 L150.40,350.06 L151.30,350.70 L152.20,352.91 L153.10,353.34 L154.00,352.75 L154.90,353.17 L155.80,354.82 L156.70,355.32 L157.60,353.88 L158.50,355.43 L159.40,355.34 L160.30,354.82 L161.20,354.50 L162.10,353.91 L163.00,353.82 L163.90,355.72 L164.80,354.31 L165.70,355.29 L166.60,354.44 L167.50,355.62 L168.40,355.21 L169.30,354.65 L170.20,354.46 L171.10,355.60 L172.00,354.34 L172.90,354.70 L173.80,355.41 L174.70,356.04 L175.60,355.61 L176.50,355.11 L177.40,356.62 L178.30,355.42 L179.20,355.27 L180.10,356.01 L181.00,356.59 L181.90,355.98 L182.80,356.33 L183.70,356.83 L184.60,357.35 L185.50,356.58 L186.40,357.16 L187.30,358.33 L188.20,358.75 L189.10,358.43 L190.00,358.83 L190.90,358.95 L191.80,358.40 L192.70,358.52 L193.60,358.82 L194.50,360.93 L195.40,360.85 L196.30,361.71 L197.20,360.16 L198.10,361.72 L199.00,361.74 L199.90,362.58 L200.80,361.91 L201.70,364.30 L202.60,361.87 L203.50,363.63 L204.40,364.54 L205.30,365.37 L206.20,365.23 L207.10,365.47 L208.00,366.08 L208.90,366.79 L209.80,365.45 L210.70,366.79 L211.60,367.77 L212.50,367.98 L213.40,366.92 L214.30,368.34 L215.20,368.86 L216.10,368.29 L217.00,368.74 L217.90,368.34 L218.80,369.37 L219.70,369.87 L220.60,368.71 L221.50,370.81 L222.40,372.30 L223.30,372.39 L224.20,372.35 L225.10,371.75 L226.00,373.21 L226.90,373.17 L227.80,373.16 L228.70,374.78 L229.60,372.93 L230.50,375.35 L231.40,373.37 L232.30,375.26 L233.20,375.08 L234.10,374.51 L235.00,376.10 L235.90,375.75 L236.80,376.37 L237.70,377.54 L238.60,375.81 L239.50,375.34 L240.40,376.47 L241.30,377.86 L242.20,376.70 L243.10,376.86 L244.00,379.33 L244.90,378.85 L245.80,378.29 L246.70,380.84 L247.60,378.11 L248.50,380.09 L249.40,377.87 L250.30,379.29 L251.20,381.45 L252.10,382.21 L253.00,382.21 L253.90,379.80 L254.80,381.01 L255.70,379.80 L256.60,379.03 L257.50,381.08 L258.40,383.02 L259.30,383.26 L260.20,382.72 L261.10,384.13 L262.00,380.80 L262.90,387.08 L263.80,381.73 L264.70,380.73 L265.60,377.81 L266.50,381.27 L267.40,382.28 L268.30,381.50 L269.20,380.48 L270.10,383.12 L271.00,385.26 L271.90,380.92 L272.80,378.87 L273.70,378.60 L274.60,383.28 L275.50,375.64 L276.40,383.03 L277.30,382.62 L278.20,381.56 L279.10,389.86 L280.00,380.67 L280.90,381.52 L281.80,383.43 L282.70,378.91 L283.60,385.87 L284.50,383.03 L285.40,382.78 L286.30,382.54 L287.20,394.02 L288.10,384.79 L289.00,385.78 L289.90,385.95 L290.80,378.19 L291.70,387.61 L292.60,386.23 L293.50,398.31 L294.40,385.22 L295.30,383.72 L296.20,383.03 L297.10,391.77 L298.00,387.07 L298.90,384.49 L299.80,385.17" stroke="#118811" stroke-width="1.9"/><path d="M55.00,258.30 C57.92,258.37 65.23,258.38 72.50,258.70 C79.77,259.02 90.85,259.62 98.60,260.20 C106.35,260.78 113.18,261.57 119.00,262.20 C124.82,262.83 129.62,263.37 133.50,264.00 C137.38,264.63 139.87,265.18 142.30,266.00 C144.73,266.82 146.17,267.78 148.10,268.90 C150.03,270.02 151.97,271.58 153.90,272.70 C155.83,273.82 157.77,274.92 159.70,275.60 C161.63,276.28 163.55,276.22 165.50,276.80 C167.45,277.38 169.45,278.97 171.40,279.10 C173.35,279.23 175.27,277.60 177.20,277.60 C179.13,277.60 180.58,278.12 183.00,279.10 C185.42,280.08 188.82,281.88 191.70,283.50 C194.58,285.12 197.97,287.18 200.30,288.80 C202.63,290.42 203.68,291.27 205.70,293.20 C207.72,295.13 210.17,298.65 212.40,300.40 C214.63,302.15 217.35,302.03 219.10,303.70 C220.85,305.37 221.47,307.53 222.90,310.40 C224.33,313.27 225.95,318.20 227.70,320.90 C229.45,323.60 231.37,324.92 233.40,326.60 C235.43,328.28 238.28,330.72 239.90,331.00 C241.52,331.28 241.98,327.53 243.10,328.30 C244.22,329.07 245.15,333.72 246.60,335.60 C248.05,337.48 249.85,338.20 251.80,339.60 C253.75,341.00 256.12,342.37 258.30,344.00 C260.48,345.63 263.37,348.32 264.90,349.40 C266.43,350.48 266.78,351.40 267.50,350.50 C268.22,349.60 268.55,347.27 269.20,344.00 C269.85,340.73 270.67,334.17 271.40,330.90 C272.13,327.63 272.87,325.30 273.60,324.40 C274.33,323.50 275.17,323.98 275.80,325.50 C276.43,327.02 276.90,335.55 277.40,333.50 C277.90,331.45 278.40,312.55 278.80,313.20 C279.20,313.85 279.40,330.82 279.80,337.40 C280.20,343.98 280.60,348.33 281.20,352.70 C281.80,357.07 282.48,360.15 283.40,363.60 C284.32,367.05 285.60,370.67 286.70,373.40 C287.80,376.13 288.92,378.65 290.00,380.00 C291.08,381.35 291.93,381.25 293.20,381.50 C294.47,381.75 296.38,381.40 297.60,381.50 C298.82,381.60 300.02,382.00 300.50,382.10" stroke="#ff2020" stroke-width="2.1"/></g><text x="59.1" y="292.4" font-size="13.4" fill="#ff1a1a">SiN strip waveguide</text><path d="M179,288.2 H186.5" stroke="#ff4a4a" stroke-width="0.9"/><path d="M193,288.5 L183.8,285 L186.2,288.4 L183.4,291.8 Z" fill="#ff1a1a"/><text x="116.6" y="323.6" font-size="13.5" fill="#168a16">SiN Slab region</text><path d="M161.3,327.3 L159.6,339" stroke="#2a9a2a" stroke-width="0.9"/><path d="M157.5,346.7 L155.9,336.8 L159.4,340.3 L163.2,338.4 Z" fill="#168a16"/><text x="111" y="410.5" font-size="13" fill="#1a1aff">SiO2</text><path d="M145,390.9 L136.8,396.7 L141.5,396 L141.6,400.3 Z" fill="#1a1aff"/><rect x="337" y="300" width="210.4" height="60" fill="#050307"/><rect x="337" y="270" width="210.4" height="39" fill="url(#pband)"/><rect x="337" y="295.4" width="210.4" height="4.6" fill="url(#pstripe)"/><rect x="339.2" y="344.9" width="37.1" height="3.3" fill="#fff"/><text x="348.6" y="356" font-size="8" fill="#fff">4 μm</text><text class="sf" x="430.4" y="336" font-size="16.9" fill="#f4f4f4">Si Substrate</text><text class="sf" x="356" y="265.3" font-size="17" fill="#1c2a96">SiO<tspan font-size="8.6" dy="0.6">2</tspan></text><text class="sf" x="410" y="265" font-size="17" fill="#ee2020">Strip</text><text class="sf" x="490" y="265" font-size="17" fill="#1aa04a">Slab</text><path d="M382,267.6 L413.6,293.4 M406.5,292.8 L413.8,293.6 L412.2,286.8" fill="none" stroke="#2a4ae0" stroke-width="1.4"/><path d="M428,268 L437.6,292.6 M432.3,289.5 L437.8,292.8 L440.2,287" fill="none" stroke="#ff2020" stroke-width="1.4"/><path d="M500,267 L494.4,292 M490.2,287.8 L494.3,292.2 L499.2,289.4" fill="none" stroke="#10c050" stroke-width="1.4"/><text class="sf" x="435" y="374.8" font-size="14" font-weight="bold" fill="#111">(c)</text><rect x="385" y="378.5" width="113" height="105" fill="url(#semv)"/><rect x="385" y="396" width="113" height="81" fill="url(#semh)"/><rect x="385" y="378.5" width="113" height="16.2" fill="#676767"/><path d="M385,395.8 C410,396 430,395.4 440.5,393.6 C450,394.6 470,395 498,394.9" fill="none" stroke="#f4f4f4" stroke-width="2.2"/><ellipse cx="440" cy="427" rx="17" ry="5" fill="url(#blob)"/><path d="M440.9,395.5 L439.5,420.5 M437.8,417 L439.5,420.8 L441.2,417.2" fill="none" stroke="#e8e8e8" stroke-width="0.8"/><text class="sf" x="428.3" y="388.8" font-size="8.6" font-style="italic" font-weight="bold" fill="#f0f0f0">SiN Core</text><text class="sf" x="406.4" y="465" font-size="9.4" font-style="italic" font-weight="bold" fill="#f2f2f2" xml:space="preserve">SiO2  Cladding</text><text class="sf" x="478.6" y="470.6" font-size="9" font-style="italic" font-weight="bold" fill="#f2f2f2">1 μm</text><rect x="458.7" y="472.6" width="36.6" height="1.6" fill="#f2f2f2"/><rect x="385" y="476.2" width="113" height="7.3" fill="#080808"/><text x="391" y="479.6" font-size="3" fill="#ccc">mag</text><text x="391" y="482.6" font-size="3" fill="#bbb">mag</text><text x="403" y="479.6" font-size="3" fill="#ccc">3.0</text><text x="403" y="482.6" font-size="3" fill="#bbb">3.0</text><text x="414" y="479.6" font-size="3" fill="#ccc">d</text><text x="414" y="482.6" font-size="3" fill="#bbb">d</text><text x="422" y="479.6" font-size="3" fill="#ccc">fr</text><text x="422" y="482.6" font-size="3" fill="#bbb">fr</text><text x="433" y="479.6" font-size="3" fill="#ccc">HV</text><text x="433" y="482.6" font-size="3" fill="#bbb">HV</text><text x="446" y="479.6" font-size="3" fill="#ccc">t</text><text x="446" y="482.6" font-size="3" fill="#bbb">t</text><text x="462" y="479.6" font-size="3" fill="#ccc">-</text><text x="462" y="482.6" font-size="3" fill="#bbb">-</text><text x="474" y="479.6" font-size="3" fill="#ccc">1um</text><text x="474" y="482.6" font-size="3" fill="#bbb">1um</text><text class="sf" x="433.8" y="498" font-size="14" font-weight="bold" fill="#111">(d)</text></svg></body></html>
